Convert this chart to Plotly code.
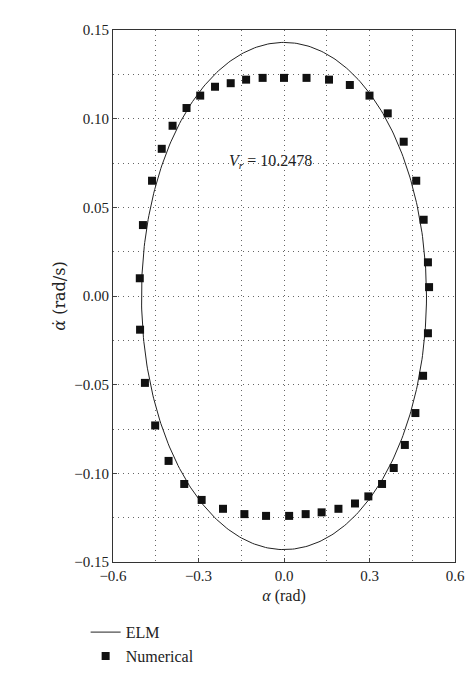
import numpy as np
import plotly.graph_objects as go

num_x = [0, 0.079, 0.158, 0.231, 0.300, 0.364, 0.420, 0.464, 0.490, 0.505, 0.509, 0.505, 0.488, 0.461, 0.424,
         0.385, 0.344, 0.296, 0.249, 0.191, 0.132, 0.076, 0.018, -0.063, -0.139, -0.214, -0.289, -0.350, -0.405,
         -0.452, -0.488, -0.505, -0.506, -0.495, -0.463, -0.429, -0.391, -0.342, -0.294, -0.242, -0.187, -0.133, -0.075]
num_y = [0.123, 0.123, 0.122, 0.119, 0.113, 0.103, 0.087, 0.065, 0.043, 0.019, 0.005, -0.021, -0.045, -0.066, -0.084,
         -0.097, -0.106, -0.113, -0.117, -0.120, -0.122, -0.123, -0.124, -0.124, -0.123, -0.120, -0.115, -0.106, -0.093,
         -0.073, -0.049, -0.019, 0.010, 0.040, 0.065, 0.083, 0.096, 0.106, 0.113, 0.118, 0.120, 0.122, 0.123]
elm_a = 0.5
elm_b = 0.143
t = np.linspace(0, 2*np.pi, 400)

fig = go.Figure()
fig.add_trace(go.Scatter(x=elm_a*np.cos(t), y=elm_b*np.sin(t), mode="lines", name="ELM",
                         line=dict(color="#222", width=1)))
fig.add_trace(go.Scatter(x=num_x, y=num_y, mode="markers", name="Numerical",
                         marker=dict(symbol="square", size=8, color="#111")))
fig.add_annotation(x=-0.047, y=0.076, text="<i>V<sub>r</sub></i> = 10.2478", showarrow=False,
                   font=dict(size=16, color="#222"))
gd = "1px,4px"
ax = dict(showline=True, mirror=True, linecolor="#333", linewidth=1, ticks="inside", ticklen=4,
          showgrid=True, gridcolor="#666", griddash=gd, gridwidth=1, zeroline=False,
          tickfont=dict(size=15, color="#222"))
fig.update_xaxes(**ax, range=[-0.6, 0.6], dtick=0.3, tickformat=".1f",
                 minor=dict(dtick=0.15, showgrid=True, gridcolor="#666", griddash=gd, ticks=""),
                 title=dict(text="<i>α</i> (rad)", font=dict(size=16), standoff=6))
fig.update_yaxes(**ax, range=[-0.15, 0.15], dtick=0.05, tickformat=".2f",
                 minor=dict(dtick=0.025, showgrid=True, gridcolor="#666", griddash=gd, ticks=""),
                 title=dict(text="<i>α̇</i> (rad/s)", font=dict(size=16, family="DejaVu Serif"), standoff=4))
fig.update_layout(width=474, height=677, plot_bgcolor="white", paper_bgcolor="white",
                  margin=dict(l=105, r=27, t=22, b=112),
                  font=dict(family="Liberation Serif", color="#222"),
                  legend=dict(x=-0.08, y=-0.1, xanchor="left", yanchor="top", font=dict(size=16),
                              tracegroupgap=2))
fig.write_html("out.html")
